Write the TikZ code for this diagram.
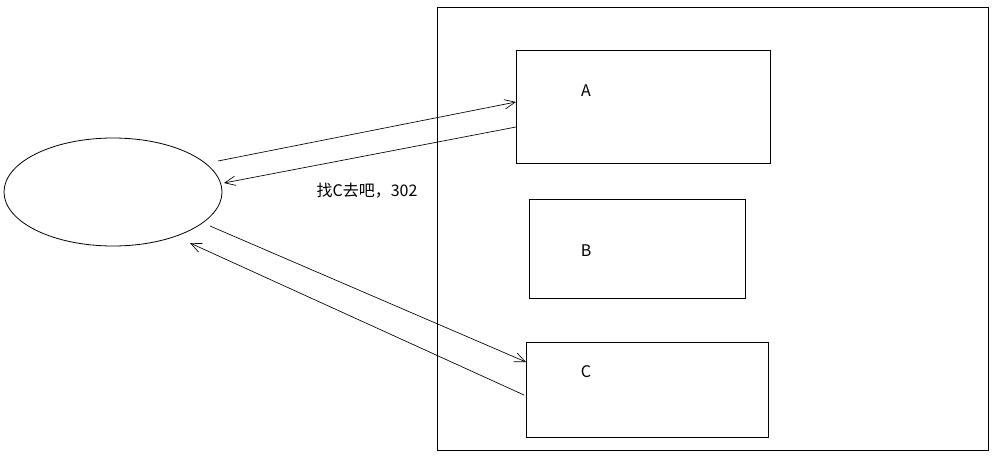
\documentclass[tikz,border=0pt]{standalone}
\usepackage{fontspec}
\newfontfamily\cjk{Noto Sans CJK SC}
\usetikzlibrary{arrows.meta}
\begin{document}
\begin{tikzpicture}[x=0.75pt,y=-0.75pt,
  lbl/.style={font=\cjk\fontsize{12}{14}\selectfont},
  conn/.style={draw,line width=0.5pt,-{Straight Barb[length=8pt,width=7pt,line width=0.5pt]}}]
\useasboundingbox (0,0) rectangle (994,457);
\draw[line width=0.6pt] (437,7) rectangle (988,450);
\draw[line width=0.6pt] (516,50) rectangle (770,163);
\draw[line width=0.6pt] (529,199) rectangle (745,298);
\draw[line width=0.6pt] (526,342) rectangle (768,437);
\draw[line width=0.6pt] (113,192) ellipse [x radius=109, y radius=54];
\node[lbl] (la) at (586,91) {A};
\node[lbl] (lb) at (586,251) {B};
\node[lbl] (lc) at (586,372) {C};
\node[lbl] (msg) at (367,191) {找C去吧，302};
\coordinate (p1) at (218,161); \coordinate (q1) at (516,102);
\coordinate (p2) at (516,127); \coordinate (q2) at (224,183);
\coordinate (p3) at (210,226); \coordinate (q3) at (526,362);
\coordinate (p4) at (524,395); \coordinate (q4) at (190,243);
\draw[conn] (p1) -- (q1);
\draw[conn] (p2) -- (q2);
\draw[conn] (p3) -- (q3);
\draw[conn] (p4) -- (q4);
\end{tikzpicture}
\end{document}
